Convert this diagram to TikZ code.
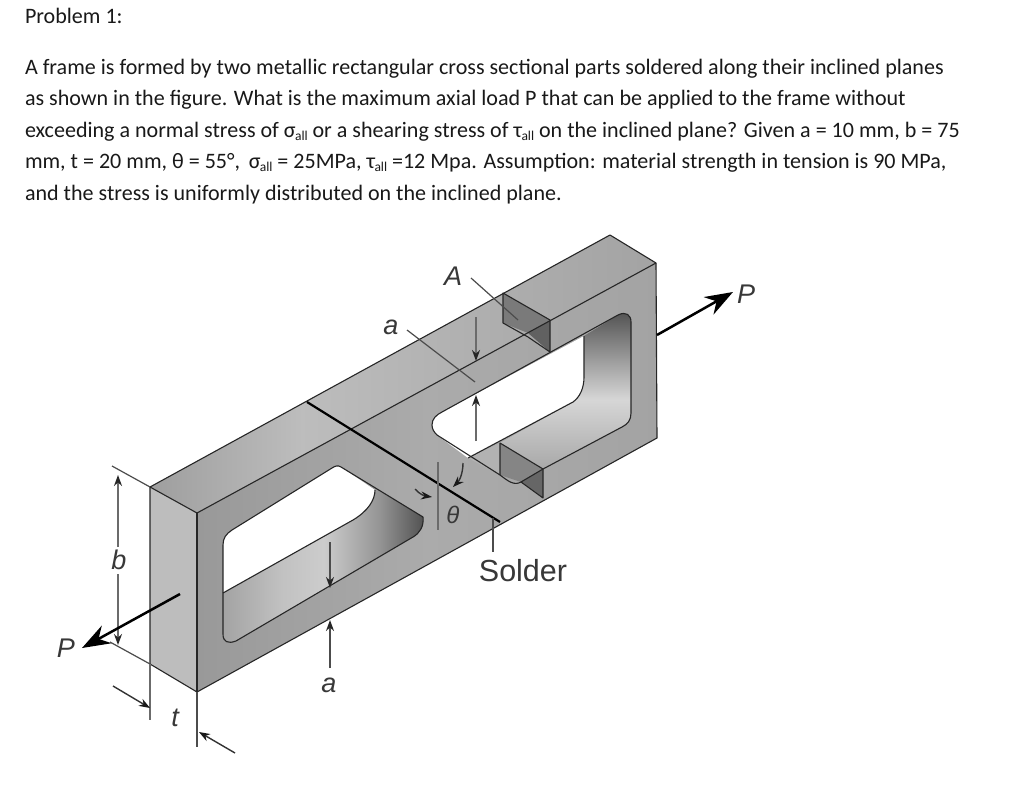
\documentclass[tikz,border=0pt]{standalone}
\usepackage{fontspec}
\setmainfont{Carlito}
\newfontfamily\figfont{Liberation Sans}
\usetikzlibrary{arrows.meta}
\pgfdeclarehorizontalshading{leftwall}{100bp}{color(0bp)=(black!36);color(25bp)=(black!36);color(40bp)=(black!24);color(50bp)=(black!20);color(64bp)=(black!42);color(75bp)=(black!68);color(100bp)=(black!68)}
\pgfdeclareverticalshading{rightwall}{100bp}{color(0bp)=(black!34);color(25bp)=(black!34);color(47bp)=(black!16);color(58bp)=(black!36);color(75bp)=(black!68);color(100bp)=(black!68)}
\pgfdeclarehorizontalshading{topface}{100bp}{color(0bp)=(black!38);color(25bp)=(black!38);color(40bp)=(black!26);color(60bp)=(black!32);color(75bp)=(black!36);color(100bp)=(black!36)}
\pgfdeclarehorizontalshading{frontface}{100bp}{color(0bp)=(black!40);color(25bp)=(black!40);color(50bp)=(black!33);color(75bp)=(black!36);color(100bp)=(black!36)}
\tikzset{
  edge/.style={draw=black!85,line width=1.1pt,line join=round},
  solderline/.style={draw=black,line width=2.2pt},
  dimline/.style={draw=black!58,line width=1.7pt},
  thinline/.style={draw=black!70,line width=1.2pt},
  dimarrow/.style={-{Stealth[length=11pt,width=8pt,black!85]}},
  loadarrow/.style={draw=black,line width=2.5pt,-{Stealth[length=28pt,width=20pt,black]}},
  smallarrow/.style={draw=black!80,line width=1.4pt,-{Stealth[length=11pt,width=8pt,black!90]}},
  body/.style={anchor=base west,inner sep=0pt,outer sep=0pt,font=\fontsize{22.05}{26}\selectfont,text=black!90},
  figlabel/.style={inner sep=0pt,font=\figfont\itshape\fontsize{27}{30}\selectfont,text=black!78}
}
\newcommand{\suball}{\kern-.6pt\textsubscript{\fontsize{13.5}{14}\selectfont all}\kern-.6pt}
\begin{document}
\begin{tikzpicture}[x=1pt,y=-1pt]
\useasboundingbox[fill=white] (0,0) rectangle (1024,797);
% text
\node[body] (l0) at (25,24) {Problem 1:};
\node[body] (l1) at (25,75) {A frame is formed by two metallic rectangular cross sectional parts soldered along their inclined planes};
\node[body] (l2) at (25,106) {as shown in the figure. What is the maximum axial load P that can be applied to the frame without};
\node[body] (l3) at (25,137) {exceeding a normal stress of σ\suball{} or a shearing stress of τ\suball{} on the inclined plane? Given a = 10 mm, b = 75};
\node[body] (l4) at (25,168) {mm, t = 20 mm, θ = 55°,\, σ\suball{} = 25MPa, τ\suball{} =12 Mpa. Assumption: material strength in tension is 90 MPa,};
\node[body] (l5) at (25,200) {and the stress is uniformly distributed on the inclined plane.};
% faces
\path[shading=topface] (150,487)--(610,235)--(656,263)--(197,513)--cycle;
\path[shading=frontface] (197,513)--(656,263)--(657,438)--(197,692)--cycle;
\fill[black!26] (150,487)--(197,513)--(197,692)--(150,664)--cycle;
% left opening
\path[shading=leftwall] (223,593)--(353,520)..controls (368,511) and (375,500)..(375,490)--(338,466)--(423,517)..controls (424,526) and (420,533)..(413,537)--(236,641)..controls (228,644) and (223,642)..(223,634)--cycle;
\fill[white] (223,593)--(223,545)..controls (223,538) and (226,534)..(232,530)--(332,468)..controls (335,466) and (338,465)..(341,467)--(375,490)..controls (375,500) and (368,511)..(353,520)--cycle;
\draw[edge] (223,593)--(223,545)..controls (223,538) and (226,534)..(232,530)--(332,468)..controls (335,466) and (338,465)..(341,467)--(423,517)..controls (424,526) and (420,533)..(413,537)--(236,641)..controls (228,644) and (223,642)..(223,634)--cycle;
\draw[edge] (223,593)--(353,520)..controls (368,511) and (375,500)..(375,490);
% right opening
\path[shading=rightwall] (584,336)--(618,315)..controls (626,311) and (631,315)..(631,322)--(631,413)..controls (631,420) and (628,424)..(622,427)--(543,469)--(500,443)--(573,402)..controls (580,397) and (584,388)..(584,377)--cycle;
\fill[black!30] (468,458)--(500,443)--(500,475)--cycle;
\fill[white] (584,336)--(584,377)..controls (584,388) and (580,397)..(573,402)--(468,458)--(437,435)..controls (434,432) and (432,429)..(432,425)..controls (432,419) and (436,415)..(442,412)--cycle;
\draw[edge] (432,425)..controls (432,419) and (436,415)..(442,412)--(618,315)..controls (626,311) and (631,315)..(631,322)--(631,413)..controls (631,420) and (628,424)..(622,427)--(543,469);
\draw[edge] (432,425)..controls (432,429) and (434,432)..(437,435)--(500,475);
\draw[edge] (584,336)--(584,377)..controls (584,388) and (580,397)..(573,402)--(468,458);
% cut sections
\fill[black!52] (503,293)--(550,320)--(528,333)--(503,323)--cycle;
\fill[black!62] (528,333)--(550,320)--(550,352)--cycle;
\fill[black!48] (500,443)--(543,469)--(521,482)--(500,475)--cycle;
\fill[black!60] (521,482)--(543,469)--(543,498)--cycle;
\draw[edge] (503,323)--(503,293)--(550,320)--(550,352)--(528,337)--cycle;
\draw[edge] (500,475)--(500,443)--(543,469)--(543,498)--(521,482);
\draw[edge] (521,482)--(543,469);
\draw[edge] (500,475)..controls (508,481) and (514,486)..(521,482);
% outlines
\draw[edge] (150,487)--(610,235)--(656,263)--(657,438)--(197,692)--(150,664)--cycle;
\draw[edge] (150,487)--(197,513)--(656,263);
\draw[edge] (197,513)--(197,692);
\draw[solderline] (307,402)--(500,522);
% dimensions
\node[figlabel] (lblA) at (453,276) {A};
\node[figlabel] (lblat) at (391,327) {a};
\node[figlabel] (lblab) at (329,685) {a};
\node[figlabel] (lblb) at (119,560) {b};
\node[figlabel] (lblt) at (175,718) {t};
\node[figlabel,font=\figfont\itshape\fontsize{24}{28}\selectfont] (lbltheta) at (453,515) {θ};
\node[figlabel] (lblPr) at (746,294) {P};
\node[figlabel] (lblPl) at (66,648) {P};
\node[inner sep=0pt,font=\figfont\fontsize{30.5}{34}\selectfont,text=black!78] (lblS) at (523,571) {Solder};
\draw[thinline] (471,278)--(518,320);
\draw[thinline] (407,330)--(475,382);
\draw[dimline,dimarrow] (476,317)--(476,361);
\draw[dimline,dimarrow] (476,441)--(476,395);
\draw[dimline] (438,462)--(438,530);
\draw[smallarrow] (415,489)..controls (419,494) and (425,496)..(432,497);
\draw[smallarrow] (463,463)..controls (463,472) and (460,480)..(453,487);
\draw[thinline] (493,518)--(493,552);
\draw[loadarrow] (657,335)--(733,292);
\draw[dimline,dimarrow] (118,547)--(118,475);
\draw[dimline,dimarrow] (118,574)--(118,645);
\draw[loadarrow] (180,594)--(82,648);
\draw[thinline] (112,466)--(150,487);
\draw[thinline] (110,642)--(150,664);
\draw[dimline] (150,664)--(150,720);
\draw[thinline] (197,692)--(197,747);
\draw[smallarrow] (113,686)--(150,708);
\draw[smallarrow] (235,753)--(199,732);
\draw[dimline,dimarrow,draw=black!70] (330,542)--(330,588);
\draw[dimline,dimarrow,draw=black!70] (330,668)--(330,620);
\end{tikzpicture}
\end{document}
